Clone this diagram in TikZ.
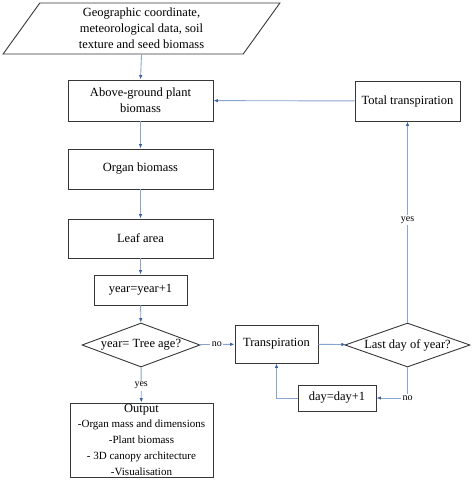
\documentclass[tikz,border=0pt]{standalone}
\usepackage{fontspec}
\setmainfont{Liberation Serif}
\usetikzlibrary{shapes.geometric,arrows.meta}
\definecolor{linec}{RGB}{135,165,205}
\definecolor{tipc}{RGB}{60,100,165}
\definecolor{boxc}{RGB}{55,55,55}
\begin{document}
\begin{tikzpicture}[x=1pt,y=-1pt,
  box/.style={draw=boxc,line width=0.9pt,rectangle,inner sep=0pt,align=center,font=\fontsize{12.5}{16}\selectfont},
  dec/.style={draw=boxc,line width=0.9pt,diamond,aspect=2.7,inner sep=0pt,font=\fontsize{12.5}{16}\selectfont},
  conn/.style={draw=linec,line width=0.9pt,-{Latex[length=4.5pt,width=3.5pt,color=tipc]}},
  lab/.style={fill=white,inner sep=1.5pt,font=\fontsize{10}{12}\selectfont}]
\useasboundingbox (0,0) rectangle (474,480);
\node[draw=boxc,line width=0.9pt,trapezium,trapezium left angle=61,trapezium right angle=119,
  trapezium stretches=true,minimum width=277pt,minimum height=51pt,inner sep=0pt,align=center,
  font=\fontsize{12.5}{16}\selectfont] (inp) at (141.5,28.5)
  {Geographic coordinate,\\meteorological data, soil\\texture and seed biomass};
\node[box,minimum width=145pt,minimum height=41pt] (above) at (140.5,100.5) {Above-ground plant\\biomass};
\node[box,minimum width=145pt,minimum height=40pt] (organ) at (140.5,169) {Organ biomass};
\node[box,minimum width=145pt,minimum height=39pt] (leaf) at (140.5,238.5) {Leaf area};
\node[box,minimum width=93pt,minimum height=30pt] (year) at (140.5,290) {year=year+1};
\node[dec,minimum width=118pt,minimum height=44pt] (d1) at (141,345) {year= Tree age?};
\node[box,minimum width=143pt,minimum height=74pt] (out) at (141.5,440)
  {{\fontsize{12.5}{14}\selectfont Output}\\[-1pt]
   \fontsize{11}{13.5}\selectfont -Organ mass and dimensions\\
   \fontsize{11}{13.5}\selectfont -Plant biomass\\
   \fontsize{11}{13.5}\selectfont - 3D canopy architecture\\
   \fontsize{11}{13.5}\selectfont -Visualisation};
\node[box,minimum width=83pt,minimum height=38pt] (trans) at (276.5,344) {Transpiration};
\node[dec,minimum width=125pt,minimum height=44pt] (d2) at (407.5,345) {Last day of year?};
\node[box,minimum width=105pt,minimum height=40pt] (total) at (407.5,101) {Total transpiration};
\node[box,minimum width=78pt,minimum height=26pt] (day) at (337,398) {day=day+1};
\draw[conn] (inp.south) -- (above.north);
\draw[conn] (above) -- (organ);
\draw[conn] (organ) -- (leaf);
\draw[conn] (leaf) -- (year);
\draw[conn] (year) -- (d1);
\draw[conn] (d1) -- node[lab,pos=0.52]{yes} (out);
\draw[conn] (d1) -- node[lab,pos=0.5]{no} (trans);
\draw[conn] (trans) -- (d2);
\draw[conn] (d2) -- node[lab,pos=0.51]{yes} (total);
\draw[conn] (total) -- (above);
\draw[conn] (d2.south) |- node[lab,pos=0.5]{no} (day.east);
\draw[conn] (day.west) -| (trans.south);
\end{tikzpicture}
\end{document}
